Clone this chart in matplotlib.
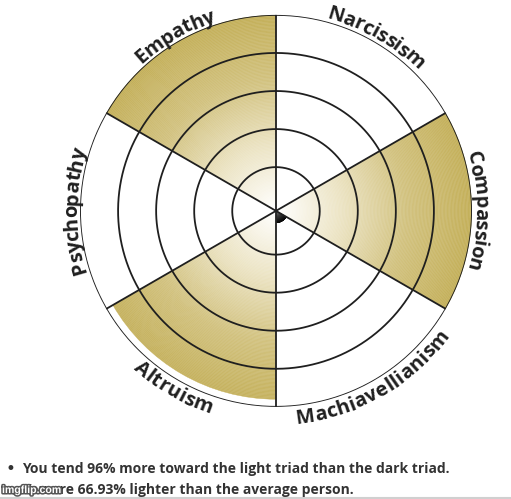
import numpy as np
import matplotlib
matplotlib.use("Agg")
import matplotlib.pyplot as plt
from matplotlib.colors import LinearSegmentedColormap
from matplotlib.font_manager import FontProperties
from matplotlib.lines import Line2D
import matplotlib.patheffects as pe

# ── data ─────────────────────────────────────────────────────────────────────
traits = ["Narcissism", "Compassion", "Machiavellianism", "Altruism", "Psychopathy", "Empathy"]
scores = [0, 100, 3.3, 96, 0, 100]
light  = [False, True, False, True, False, True]
rings  = [20, 40, 60, 80, 100]
line1 = "You tend 96% more toward the light triad than the dark triad."
line2 = "You are 66.93% lighter than the average person."

RMIN = -3
INK = "#1f1f1f"
gold = LinearSegmentedColormap.from_list("gold", ["#ffffff", "#ece4c4", "#d2c27f", "#c4b05a"])
dark = LinearSegmentedColormap.from_list("dark", ["#8a8a8a", "#3a3a3a", "#0a0a0a"])

fig = plt.figure(figsize=(5.11, 4.99), dpi=100)
ax = fig.add_axes([0.1566, 0.1844, 0.767, 0.786], projection="polar")
ax.set_theta_zero_location("N")
ax.set_theta_direction(-1)
ax.set_ylim(RMIN, 100)
ax.axis("off")

n = len(traits)
width = 2 * np.pi / n
centers = np.arange(n) * width + width / 2

# gradient sectors drawn as thin stacked bars
steps = 140
for th, v, lt in zip(centers, scores, light):
    if v <= 0:
        continue
    edges = np.linspace(RMIN, v, steps + 1)
    for b0, b1 in zip(edges[:-1], edges[1:]):
        if lt:
            c = gold((b0 - RMIN) / (100 - RMIN))
        else:
            c = dark((b0 - RMIN) / (v - RMIN))
        ax.bar(th, b1 - b0, width=width, bottom=b0, color=c, edgecolor=c,
               lw=0.3, zorder=1)

# rings and spokes
tt = np.linspace(0, 2 * np.pi, 500)
for r in rings:
    ax.plot(tt, np.full_like(tt, r), color=INK, lw=1.3, zorder=3)
for k in range(n):
    ax.plot([k * width, k * width], [RMIN, 100], color=INK, lw=1.3, zorder=3)

# curved labels
fs = 14.5
fp = FontProperties(family="Open Sans", weight="bold", size=fs)
fig.canvas.draw()
renderer = fig.canvas.get_renderer()
R_PX = ax.transData.transform((0, 100))[1] - ax.transData.transform((0, RMIN))[1]
px_per_unit = R_PX / (100 - RMIN)


def text_w(s):
    if not s:
        return 0.0
    w, h, d = renderer.get_text_width_height_descent(s, fp, ismath=False)
    return w


cap = fs * 0.72 * 100 / 72
scale = R_PX / 196
for name, th in zip(traits, centers):
    deg = np.degrees(th)
    bottom_side = 100 < deg < 260
    W = text_w(name)
    if bottom_side:
        r_base = (199 + cap) * scale
        r_mid = r_base - cap / 2
    else:
        r_base = 199 * scale
        r_mid = r_base + cap / 2
    for i, ch in enumerate(name):
        s = (text_w(name[:i]) + text_w(name[:i + 1])) / 2
        off = (s - W / 2) / r_mid
        t = th - off if bottom_side else th + off
        rot = 180 - np.degrees(t) if bottom_side else -np.degrees(t)
        ax.text(t, RMIN + r_base / px_per_unit, ch, fontproperties=fp, color=INK,
                rotation=rot, rotation_mode="anchor", ha="center",
                va="baseline", zorder=4)

# bullet lines below the chart
fig.text(5 / 511, 1 - 469 / 499, "\u2022", fontsize=12, color="#333333", va="center",
         family="DejaVu Sans")
fig.text(22 / 511, 1 - 469 / 499, line1, fontsize=10, color="#333333",
         weight="bold", family="Open Sans", va="center")
fig.text(22 / 511, 1 - 490 / 499, line2, fontsize=10, color="#333333",
         weight="bold", family="Open Sans", va="center")
fig.text(2 / 511, 1 - 490 / 499, "imgflip.com", fontsize=7.6, color="white",
         family="Liberation Sans", va="center", weight="bold",
         path_effects=[pe.withStroke(linewidth=2.2, foreground="#555555")])

# faint grey edge at the very bottom
fig.add_artist(Line2D([0, 1], [0.002, 0.002], color="#d0d0d0", lw=1.5,
                      transform=fig.transFigure))

fig.savefig("out.png", dpi=100)
